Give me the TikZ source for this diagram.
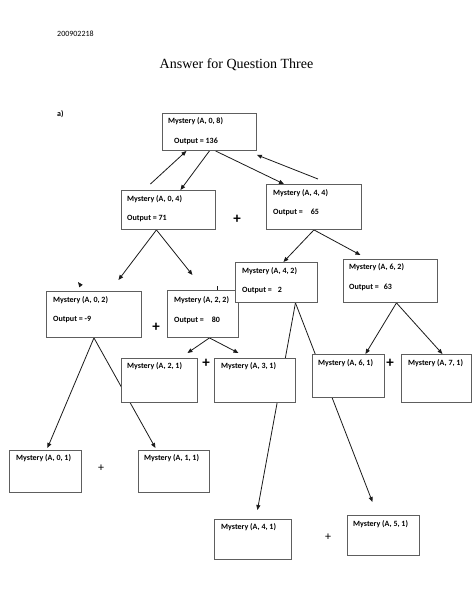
\documentclass[tikz,border=0pt]{standalone}
\usepackage{fontspec}
\setmainfont{Carlito}
\newfontfamily\titlefont{Liberation Serif}
\usetikzlibrary{arrows.meta,backgrounds}
\definecolor{BoxGray}{HTML}{5E5E5E}
\definecolor{Ink}{HTML}{1A1A1A}

\begin{document}
\begin{tikzpicture}[
    x=1pt, y=-1pt,
    font=\fontsize{8pt}{9.6pt}\selectfont\bfseries,
    box/.style={draw=BoxGray, fill=white, line width=0.9pt, anchor=north west, inner sep=0pt},
    lbl/.style={anchor=west, inner sep=0pt},
    plus/.style={inner sep=0pt, font=\fontsize{15pt}{15pt}\selectfont\bfseries},
    lightplus/.style={inner sep=0pt, font=\fontsize{12pt}{12pt}\selectfont},
    arrow/.style={-{Triangle[length=5pt,width=4pt]}, line width=0.8pt, Ink},
    link/.style={line width=0.8pt, Ink}
  ]
    \useasboundingbox (0,0) rectangle (474,613);

    \node[anchor=base west, inner sep=0pt, font=\fontsize{8pt}{9.6pt}\selectfont] (id) at (57,36) {200902218};
    \node[anchor=base, inner sep=0pt, font=\fontsize{14pt}{16pt}\titlefont] (title) at (236.5,68.5) {Answer for Question Three};
    \node[anchor=base west, inner sep=0pt] (part) at (57,116) {a)};

    \node[box, minimum width=94pt, minimum height=37pt] (b008) at (162,113) {};
    \node[box, minimum width=94pt, minimum height=39pt] (b004) at (121,190) {};
    \node[box, minimum width=95pt, minimum height=45pt] (b044) at (266,184) {};
    \node[box, minimum width=95pt, minimum height=46pt] (b002) at (46,291) {};
    \node[box, minimum width=71pt, minimum height=47pt] (b022) at (167,290) {};
    \node[box, minimum width=82pt, minimum height=40pt] (b042) at (235,262) {};
    \node[box, minimum width=94pt, minimum height=43pt] (b062) at (343,259) {};
    \node[box, minimum width=76pt, minimum height=44pt] (b021) at (121,358) {};
    \node[box, minimum width=81pt, minimum height=44pt] (b031) at (214,358) {};
    \node[box, minimum width=72pt, minimum height=43pt] (b061) at (312,354) {};
    \node[box, minimum width=70pt, minimum height=48pt] (b071) at (401,354) {};
    \node[box, minimum width=72pt, minimum height=42pt] (b001) at (9,450) {};
    \node[box, minimum width=71pt, minimum height=42pt] (b011) at (138,450) {};
    \node[box, minimum width=77pt, minimum height=40pt] (b041) at (214,519) {};
    \node[box, minimum width=72pt, minimum height=40pt] (b051) at (347,515) {};

    \node[lbl] (m008) at ([shift={(6pt,-8.5pt)}]b008.north west) {Mystery (A, 0, 8)};
    \node[lbl] (o008) at ([shift={(12pt,-28.5pt)}]b008.north west) {Output = 136};
    \node[lbl] (m004) at ([shift={(6pt,-9pt)}]b004.north west) {Mystery (A, 0, 4)};
    \node[lbl] (o004) at ([shift={(6pt,-29pt)}]b004.north west) {Output = 71};
    \node[lbl] (m044) at ([shift={(7pt,-9pt)}]b044.north west) {Mystery (A, 4, 4)};
    \node[lbl] (o044) at ([shift={(7pt,-28pt)}]b044.north west) {Output =\hspace{8pt}65};
    \node[lbl] (m002) at ([shift={(7pt,-9pt)}]b002.north west) {Mystery (A, 0, 2)};
    \node[lbl] (o002) at ([shift={(7pt,-29pt)}]b002.north west) {Output = -9};
    \node[lbl] (m022) at ([shift={(7pt,-10pt)}]b022.north west) {Mystery (A, 2, 2)};
    \node[lbl] (o022) at ([shift={(7pt,-30pt)}]b022.north west) {Output =\hspace{8pt}80};
    \node[lbl] (m042) at ([shift={(7pt,-9pt)}]b042.north west) {Mystery (A, 4, 2)};
    \node[lbl] (o042) at ([shift={(7pt,-29pt)}]b042.north west) {Output =\hspace{6pt}2};
    \node[lbl] (m062) at ([shift={(6pt,-8pt)}]b062.north west) {Mystery (A, 6, 2)};
    \node[lbl] (o062) at ([shift={(6pt,-28pt)}]b062.north west) {Output =\hspace{5pt}63};
    \node[lbl] (m021) at ([shift={(6pt,-8pt)}]b021.north west) {Mystery (A, 2, 1)};
    \node[lbl] (m031) at ([shift={(7pt,-8pt)}]b031.north west) {Mystery (A, 3, 1)};
    \node[lbl] (m061) at ([shift={(6pt,-9pt)}]b061.north west) {Mystery (A, 6, 1)};
    \node[lbl] (m071) at ([shift={(7pt,-9pt)}]b071.north west) {Mystery (A, 7, 1)};
    \node[lbl] (m001) at ([shift={(7pt,-8pt)}]b001.north west) {Mystery (A, 0, 1)};
    \node[lbl] (m011) at ([shift={(6pt,-8pt)}]b011.north west) {Mystery (A, 1, 1)};
    \node[lbl] (m041) at ([shift={(7pt,-8pt)}]b041.north west) {Mystery (A, 4, 1)};
    \node[lbl] (m051) at ([shift={(6pt,-9pt)}]b051.north west) {Mystery (A, 5, 1)};

    \node[plus] (p1) at (237,219) {+};
    \node[plus] (p2) at (156,327) {+};
    \node[plus] (p3) at (206,363) {+};
    \node[plus] (p4) at (390,363) {+};
    \node[lightplus] (p5) at (101,468) {+};
    \node[lightplus] (p6) at (328,537) {+};

    \coordinate (s1) at (81,286);
    \coordinate (s1tip) at (78,282);
    \coordinate (s2) at (217,286);

    \begin{scope}[on background layer]
    \draw[arrow] ([xshift=-18pt,yshift=6pt]b004.north) -- ([xshift=-23pt]b008.south);
    \draw[arrow] (b008.south) -- ([xshift=12pt]b004.north);
    \draw[arrow] ([xshift=6pt]b008.south) -- ([xshift=-30pt]b044.north);
    \draw[arrow] ([xshift=4pt,yshift=5pt]b044.north) -- ([yshift=-4pt]b008.south east);
    \draw[arrow] ([xshift=-12pt]b004.south) -- ([xshift=24.5pt,yshift=11pt]b002.north);
    \draw[arrow] ([xshift=-12pt]b004.south) -- ([xshift=-10.5pt,yshift=15pt]b022.north);
    \draw[arrow] (b044.south) -- ([xshift=7pt]b042.north);
    \draw[arrow] (b044.south) -- ([xshift=-30pt,yshift=4pt]b062.north);
    \draw[arrow] ([xshift=6pt]b062.south) -- ([xshift=17pt]b061.north);
    \draw[arrow] ([xshift=6pt]b062.south) -- ([xshift=6pt]b071.north);
    \draw[arrow] ([xshift=6.5pt]b022.south) -- ([xshift=28pt,yshift=5pt]b021.north);
    \draw[arrow] ([xshift=6.5pt]b022.south) -- ([xshift=-16.5pt,yshift=5pt]b031.north);
    \draw[arrow] ([xshift=19pt]b042.south) -- ([xshift=4.5pt,yshift=9pt]b041.north);
    \draw[arrow] ([xshift=19pt]b042.south) -- ([xshift=-11pt,yshift=13pt]b051.north);
    \draw[arrow] (b002.south) -- ([xshift=2pt,yshift=2pt]b001.north);
    \draw[arrow] (b002.south) -- ([xshift=-18.5pt,yshift=2pt]b011.north);
    \draw[arrow] (s1) -- (s1tip);
    \draw[link] (s2) -- (b022.north -| s2);
    \end{scope}
  \end{tikzpicture}
\end{document}
